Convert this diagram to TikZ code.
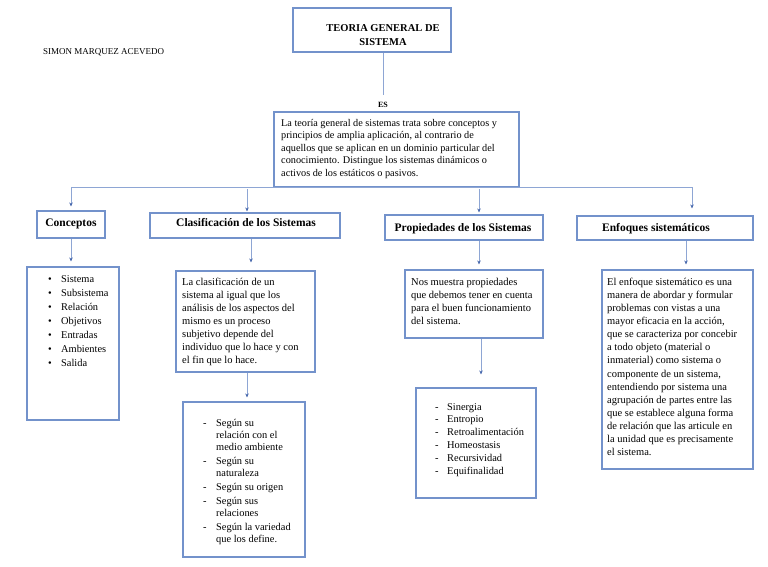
\documentclass[tikz,border=0pt]{standalone}
\usepackage{fontspec}
\setmainfont{Liberation Serif}
\usetikzlibrary{arrows.meta,shadows}
\definecolor{boxblue}{HTML}{7392CB}
\definecolor{linkblue}{HTML}{8EA6D4}
\definecolor{tipblue}{HTML}{4A6AAE}
\newcommand{\txtblk}[1]{\begin{tabular}[t]{@{}l@{}}#1\end{tabular}}
\newcommand{\bulblk}[2]{\begin{tabular}[t]{@{}p{#1}@{}l@{}}#2\end{tabular}}
\begin{document}
\begin{tikzpicture}[x=1pt,y=-1pt,
  box/.style={draw=boxblue,line width=1.1pt,fill=white,inner sep=0pt,
    drop shadow={opacity=0.18,shadow xshift=1pt,shadow yshift=-1.2pt}},
  txt/.style={inner sep=0pt,anchor=base west,font=\fontsize{10.5}{13}\selectfont},
  hdr/.style={inner sep=0pt,anchor=base,font=\fontsize{11.5}{13}\selectfont\bfseries},
  link/.style={draw=linkblue,line width=0.7pt},
  arr/.style={link,-{Stealth[length=4pt,width=3.5pt,color=tipblue]}}]
\useasboundingbox[fill=white] (0,0) rectangle (768,566);

% author
\node[inner sep=0pt,anchor=base west,font=\fontsize{9}{10}\selectfont] (author) at (43,54) {SIMON MARQUEZ ACEVEDO};

% boxes
\node[box,minimum width=158,minimum height=44] (title) at (372,30) {};
\node[box,minimum width=245,minimum height=75] (main) at (396.5,149.5) {};
\node[box,minimum width=68,minimum height=27] (conc) at (71,224.5) {};
\node[box,minimum width=190,minimum height=25] (clas) at (245,225.5) {};
\node[box,minimum width=158,minimum height=25] (prop) at (464,227.5) {};
\node[box,minimum width=176,minimum height=24] (enf) at (665,228) {};
\node[box,minimum width=92,minimum height=153] (conclist) at (73,343.5) {};
\node[box,minimum width=139,minimum height=101] (clastext) at (245.5,321.5) {};
\node[box,minimum width=122,minimum height=155] (claslist) at (244,479.5) {};
\node[box,minimum width=138,minimum height=68] (proptext) at (474,304) {};
\node[box,minimum width=120,minimum height=110] (proplist) at (476,443) {};
\node[box,minimum width=151,minimum height=199] (enftext) at (677.5,369.5) {};

% title text
\node[inner sep=0pt,anchor=base,font=\fontsize{10.5}{14}\selectfont\bfseries] (titletxt) at (383,31.5)
  {\begin{tabular}[t]{@{}c@{}}TEORIA GENERAL DE\\ SISTEMA\end{tabular}};
\node[inner sep=0pt,anchor=base,font=\fontsize{8}{9}\selectfont\bfseries] (es) at (383,107) {ES};

% main text
\node[txt,font=\fontsize{10.25}{12.6}\selectfont] (maintxt) at (281,126) {\txtblk{La teoría general de sistemas trata sobre conceptos y\\
principios de amplia aplicación, al contrario de\\
aquellos que se aplican en un dominio particular del\\
conocimiento. Distingue los sistemas dinámicos o\\
activos de los estáticos o pasivos.}};

% headers
\node[hdr] (conch) at (71,226) {Conceptos};
\node[hdr] (clash) at (246,226) {Clasificación de los Sistemas};
\node[hdr] (proph) at (463,231) {Propiedades de los Sistemas};
\node[hdr] (enfh) at (656,231) {Enfoques sistemáticos};

% concept list
\node[txt,font=\fontsize{10.4}{14}\selectfont] (conctxt) at (48,282) {\bulblk{13pt}{%
\textbullet & Sistema\\ \textbullet & Subsistema\\ \textbullet & Relación\\ \textbullet & Objetivos\\
\textbullet & Entradas\\ \textbullet & Ambientes\\ \textbullet & Salida}};

% clasificacion text
\node[txt] (clastxt) at (182,285) {\txtblk{La clasificación de un\\
sistema al igual que los\\
análisis de los aspectos del\\
mismo es un proceso\\
subjetivo depende del\\
individuo que lo hace y con\\
el fin que lo hace.}};

% clasificacion list
\node[txt,font=\fontsize{10.4}{12}\selectfont] (claslisttxt) at (203,426) {\bulblk{13pt}{%
- & Según su\\ & relación con el\\ & medio ambiente\\[2pt]
- & Según su\\ & naturaleza\\[2pt]
- & Según su origen\\[2pt]
- & Según sus\\ & relaciones\\[2pt]
- & Según la variedad\\ & que los define.}};

% propiedades text
\node[txt] (proptxt) at (411,285) {\txtblk{Nos muestra propiedades\\
que debemos tener en cuenta\\
para el buen funcionamiento\\
del sistema.}};

% propiedades list
\node[txt,font=\fontsize{10.4}{12.8}\selectfont] (proplisttxt) at (435,410) {\bulblk{12pt}{%
- & Sinergia\\ - & Entropio\\ - & Retroalimentación\\ - & Homeostasis\\ - & Recursividad\\ - & Equifinalidad}};

% enfoques text
\node[txt,font=\fontsize{10.5}{13.15}\selectfont] (enftxt) at (607,285) {\txtblk{El enfoque sistemático es una\\
manera de abordar y formular\\
problemas con vistas a una\\
mayor eficacia en la acción,\\
que se caracteriza por concebir\\
a todo objeto (material o\\
inmaterial) como sistema o\\
componente de un sistema,\\
entendiendo por sistema una\\
agrupación de partes entre las\\
que se establece alguna forma\\
de relación que las articule en\\
la unidad que es precisamente\\
el sistema.}};

% connectors
\coordinate (esTop) at (383,95);
\draw[link] (esTop |- title.south) -- (esTop);

\coordinate (hL) at (71,187);
\coordinate (hR) at (692,187);
\coordinate (xb) at (247,189);
\coordinate (xc) at (479,189);
\draw[link] (hL) -- (hR);
\draw[arr,shorten >=4pt] (hL) -- (hL |- conc.north);
\draw[arr,shorten >=1pt] (xb) -- (xb |- clas.north);
\draw[arr,shorten >=2pt] (xc) -- (xc |- prop.north);
\draw[arr,shorten >=7pt] (hR) -- (hR |- enf.north);

\coordinate (xa1) at (71,0);
\coordinate (xb1) at (251,0);
\coordinate (xb2) at (247,0);
\coordinate (xc1) at (479,0);
\coordinate (xc2) at (481,0);
\coordinate (xd1) at (686,0);
\draw[arr,shorten >=5pt] (xa1 |- conc.south) -- (xa1 |- conclist.north);
\draw[arr,shorten >=8pt] (xb1 |- clas.south) -- (xb1 |- clastext.north);
\draw[arr,shorten >=4pt] (xb2 |- clastext.south) -- (xb2 |- claslist.north);
\draw[arr,shorten >=5pt] (xc1 |- prop.south) -- (xc1 |- proptext.north);
\draw[arr,shorten >=13pt] (xc2 |- proptext.south) -- (xc2 |- proplist.north);
\draw[arr,shorten >=5pt] (xd1 |- enf.south) -- (xd1 |- enftext.north);
\end{tikzpicture}
\end{document}
